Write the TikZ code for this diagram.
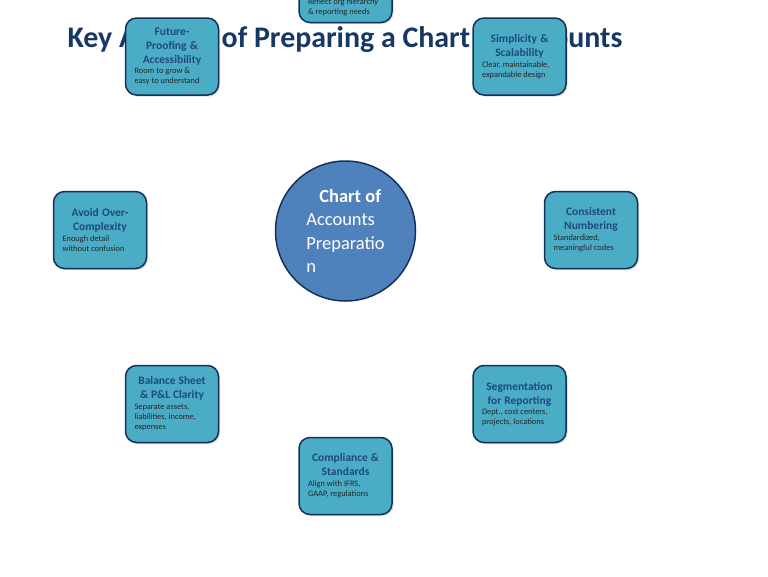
\documentclass[tikz,border=0pt]{standalone}
\usepackage{fontspec}
\setmainfont{Carlito}
\usetikzlibrary{shadows}
\definecolor{CoaNavy}{RGB}{23,55,100}
\definecolor{CoaHead}{RGB}{31,73,125}
\definecolor{CoaTeal}{RGB}{75,172,198}
\definecolor{CoaBlue}{RGB}{79,129,189}
\definecolor{CoaEdge}{RGB}{20,50,88}
\newcommand{\coadesc}[1]{\parbox{75pt}{\raggedright\fontsize{8.4}{10}\selectfont\mdseries\spaceskip=0pt\xspaceskip=0pt\color{black!85}#1}}
\tikzset{
  coa/title/.style={
    font=\fontsize{29.9}{34}\selectfont\bfseries,
    text=CoaNavy
  },
  coa/hub/.style={
    circle,
    draw=CoaEdge,
    line width=1.5pt,
    fill=CoaBlue,
    minimum size=140pt,
    align=left,
    text=white,
    font=\fontsize{18.5}{23.5}\selectfont,
    execute at begin node={\spaceskip=0pt\xspaceskip=0pt\relax}
  },
  coa/aspectbox/.style={
    draw=CoaEdge,
    line width=1.5pt,
    rounded corners=11pt,
    fill=CoaTeal,
    minimum width=93pt,
    minimum height=77pt,
    text width=75pt,
    inner xsep=9pt,
    align=center,
    text=CoaHead,
    font=\fontsize{11.5}{14}\selectfont\bfseries,
    execute at begin node={\spaceskip=0pt\xspaceskip=0pt\relax},
    drop shadow={shadow xshift=1.5pt, shadow yshift=-1.5pt, opacity=0.3}
  }
}

\begin{document}
\begin{tikzpicture}[x=1pt,y=-1pt]
  \useasboundingbox (0,0) rectangle (768,576);
  \node[coa/title] (title) at (345,40) {Key Aspects of Preparing a Chart of Accounts};
  \node[coa/hub] (hub) at (345.5,231) {\hspace*{13pt}\textbf{Chart of}\\Accounts\\Preparatio\\n};
  \node[coa/aspectbox] (hierarchy) at (345.5,-16) {\phantom{X}\\\phantom{X}\\\phantom{X}\\[8pt]\coadesc{Reflect org hierarchy\\\& reporting needs}};
  \node[coa/aspectbox] (future) at (172,56.5) {Future-\\Proofing \&\\Accessibility\\[2pt]\coadesc{Room to grow \&\\easy to understand}};
  \node[coa/aspectbox] (simple) at (519.5,56.5) {Simplicity \&\\Scalability\\[2.5pt]\coadesc{Clear, maintainable,\\expandable design}};
  \node[coa/aspectbox] (avoid) at (100,230) {Avoid Over-\\Complexity\\[2.5pt]\coadesc{Enough detail\\without confusion}};
  \node[coa/aspectbox] (numbering) at (591,230) {Consistent\\Numbering\\[2.5pt]\coadesc{Standardized,\\meaningful codes}};
  \node[coa/aspectbox] (balance) at (172,404) {Balance Sheet\\\& P\&L Clarity\\[2.5pt]\coadesc{Separate assets,\\liabilities, income,\\expenses}};
  \node[coa/aspectbox] (segment) at (519.5,404) {Segmentation\\for Reporting\\[2.5pt]\coadesc{Dept., cost centers,\\projects, locations}};
  \node[coa/aspectbox] (comply) at (345.5,476) {Compliance \&\\Standards\\[2.5pt]\coadesc{Align with IFRS,\\GAAP, regulations}};
\end{tikzpicture}
\end{document}
